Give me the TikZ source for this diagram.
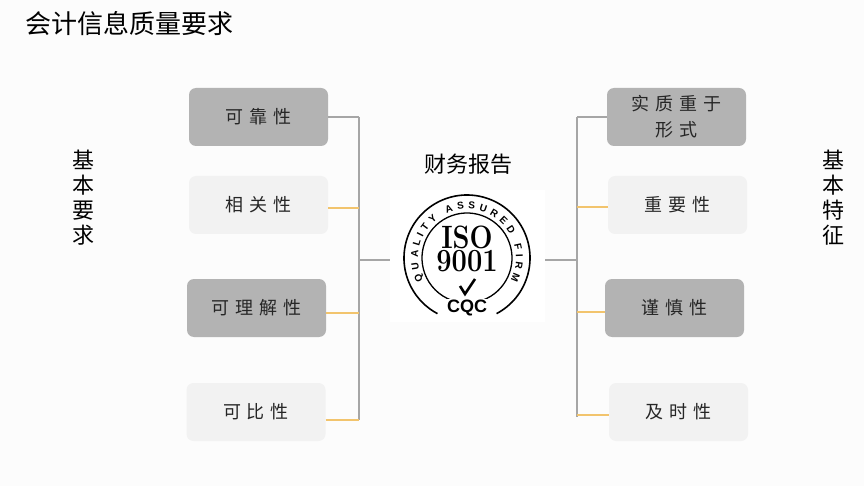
\documentclass[tikz,border=0pt]{standalone}
\usepackage{fontspec}
\newfontfamily\cjk{Noto Sans CJK SC}
\newfontfamily\sansb{Liberation Sans}
\usetikzlibrary{decorations.text}
\definecolor{dk}{HTML}{B3B3B3}
\definecolor{lt}{HTML}{F2F2F2}
\definecolor{ln}{HTML}{A6A6A6}
\definecolor{og}{HTML}{F2C46D}
\begin{document}
\begin{tikzpicture}[x=1pt,y=-1pt,
 box/.style={rounded corners=7pt,minimum width=139pt,minimum height=58pt,inner sep=0pt,font=\cjk\fontsize{18}{21}\selectfont,text=black!85},
 dbox/.style={box,fill=dk},
 lbox/.style={box,fill=lt},
 gl/.style={draw=ln,line width=1.2pt},
 ol/.style={draw=og,line width=1.2pt}]
\fill[white!99!black] (0,0) rectangle (864,486);
\node[anchor=west,font=\cjk\fontsize{26}{30}\selectfont] (title) at (22,24) {会计信息质量要求};
\node[font=\cjk\fontsize{22}{25}\selectfont,align=center] (lside) at (83,198) {基\\本\\要\\求};
\node[font=\cjk\fontsize{22}{25}\selectfont,align=center] (rside) at (833,198) {基\\本\\特\\征};
% left
\node[dbox] (a1) at (258.5,117) {可\,\,靠\,\,性};
\node[lbox] (a2) at (258.5,205) {相\,\,关\,\,性};
\node[dbox] (a3) at (256.5,308) {可\,\,理\,\,解\,\,性};
\node[lbox] (a4) at (256,412) {可\,\,比\,\,性};
% right
\node[dbox,align=center,font=\cjk\fontsize{18}{26}\selectfont] (b1) at (676.5,117) {实\,\,质\,\,重\,\,于\\形\,\,式};
\node[lbox] (b2) at (677.5,205) {重\,\,要\,\,性};
\node[dbox] (b3) at (674.5,308) {谨\,\,慎\,\,性};
\node[lbox] (b4) at (678.5,412) {及\,\,时\,\,性};
% center
\node[font=\cjk\fontsize{22}{26}\selectfont] (ct) at (468,164) {财务报告};
\node[fill=white,minimum width=155pt,minimum height=132pt,inner sep=0pt] (logo) at (467.5,256) {};
\coordinate (lt) at (359,117); \coordinate (lb) at (359,420);
\coordinate (rt) at (577,117); \coordinate (rb) at (577,417);
\draw[gl] (lt) -- (lb);
\draw[gl] (rt) -- (rb);
\draw[gl] (a1.east) -- (lt);
\draw[ol] (a2.east|-0,208) -- (359,208);
\draw[ol] (a3.east|-0,313) -- (359,313);
\draw[ol] (a4.east|-0,420) -- (359,420);
\draw[gl] (359,260) -- (logo.west|-0,260);
\draw[gl] (b1.west) -- (rt);
\draw[ol] (b2.west|-0,207) -- (577,207);
\draw[ol] (b3.west|-0,312) -- (577,312);
\draw[ol] (b4.west|-0,415) -- (577,415);
\draw[gl] (577,260) -- (logo.east|-0,260);
% logo
\begin{scope}[shift={(467,258)},y=1pt]
\draw[line width=1.6pt] (-62:63) arc[start angle=-62,end angle=242,radius=63];
\draw[line width=1.3pt] (-70:45) arc[start angle=-70,end angle=250,radius=45];
\path[decorate,decoration={text along path,text align=fit to path,
 text={|\sansb\bfseries\fontsize{10}{10}\selectfont|QUALITY ASSURED FIRM}}]
 (207:49) arc[start angle=207,end angle=-27,radius=49];
\node[font=\fontsize{34}{28}\selectfont\bfseries,align=center,xscale=0.8,yscale=0.95] (iso) at (0,9) {ISO\\[-4pt]9001};
\draw[line width=2.6pt] (-7,-28) -- (-2,-36) -- (8,-21);
\node[fill=white,inner sep=1pt,font=\sansb\bfseries\fontsize{18}{18}\selectfont] (cqc) at (0,-50) {CQC};
\end{scope}
\end{tikzpicture}
\end{document}
